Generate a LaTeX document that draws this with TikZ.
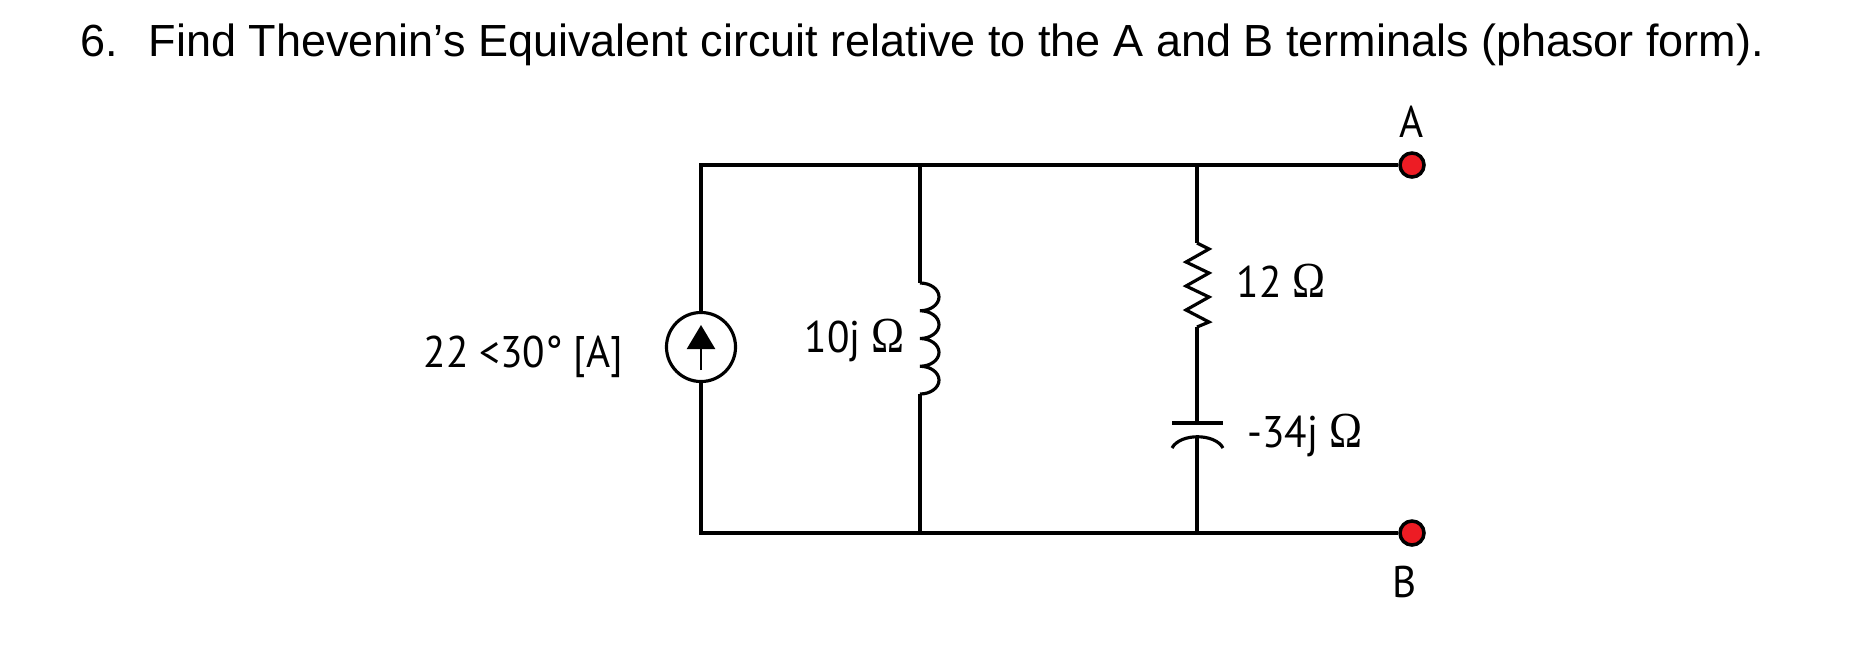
\documentclass[tikz,border=0pt]{standalone}
\usepackage{fontspec}
\setmainfont{Liberation Sans}
\newfontfamily\lblfont[FakeStretch=0.93]{PT Sans}
\newfontfamily\ohmfont[Scale=1.14,FakeStretch=0.88]{Liberation Serif}
\usetikzlibrary{arrows.meta}
\newcommand{\ohmsign}{{\ohmfont\char"03A9}}
\definecolor{termred}{HTML}{ED1C24}
\tikzstyle{wire} = [line width=0.9pt,line join=miter]
\tikzstyle{txt} = [anchor=base west,inner sep=0,font=\fontsize{12.6}{15}\selectfont\lblfont]
\tikzstyle{term} = [circle,draw,line width=1pt,fill=termred,minimum size=0.24cm,inner sep=0]

\begin{document}
\begin{tikzpicture}[
      x=0.01cm,
      y=-0.01cm,
      wire]

     \useasboundingbox (0,0) rectangle (1858,663);

     \node[anchor=base west,inner sep=0,font=\fontsize{12.8}{15}\selectfont] (title) at (79,56)
       {6.\hspace{0.68em}Find Thevenin’s Equivalent circuit relative to the A and B terminals (phasor form).};

     % wire corners
     \coordinate (tl) at (701,165);
     \coordinate (tm) at (920,165);
     \coordinate (tr) at (1197,165);
     \coordinate (bl) at (701,533);
     \coordinate (bm) at (920,533);
     \coordinate (br) at (1197,533);

     \node[term] (A) at (1412,165) {};
     \node[term] (B) at (1412,533) {};
     \node[circle,draw,minimum size=0.69cm,inner sep=0] (src) at (701,347) {};

     % source arrow
     \coordinate (arrlow) at (701,370);
     \coordinate (arrtip) at (701,325);
     \draw[line width=0.7pt,-{Triangle[length=0.24cm,width=0.28cm]}] (arrlow) -- (arrtip);

     \coordinate (indtop) at (920,283);
     \coordinate (indbot) at (920,394);
     \coordinate (restop) at (1197,243);
     \coordinate (resbot) at (1197,327);
     \coordinate (captop) at (1197,423);
     \coordinate (capbot) at (1197,437);
     \coordinate (platel) at (1172,423);
     \coordinate (plater) at (1223,423);
     \coordinate (arcl) at (1172,448);
     \coordinate (arcr) at (1223,448);

     \draw (src.north) -- (tl) -- (tm) -- (tr) -- (A);
     \draw (src.south) -- (bl) -- (bm) -- (br) -- (B);
     \draw (tm) -- (indtop);
     \draw (indbot) -- (bm);
     \draw (tr) -- (restop);
     \draw (resbot) -- (captop);
     \draw (capbot) -- (br);

     % inductor
     \draw (indtop)
       \foreach \n in {1,...,4} { arc[start angle=-90,end angle=90,x radius=19,y radius=13.875] };

     % resistor
     \draw (restop) -- ++(12,6) -- ++(-23,13) -- ++(23,11) -- ++(-23,13) -- ++(23,11)
        -- ++(-23,13) -- ++(23,12) -- (resbot);

     % capacitor
     \draw (platel) -- (plater);
     \draw (arcl) .. controls (1180,433) and (1215,433) .. (arcr);

     \node[txt,anchor=base] (lblA) at (1412,137) {A};
     \node[txt,anchor=base] (lblB) at (1405,597) {B};
     \node[txt] (lblsrc) at (422,367) {22 <30° [A]};
     \node[txt] (lblind) at (803,352) {10j \ohmsign};
     \node[txt] (lblres) at (1235,297) {12 \ohmsign};
     \node[txt] (lblcap) at (1246,447) {-34j \ohmsign};

  \end{tikzpicture}
\end{document}
